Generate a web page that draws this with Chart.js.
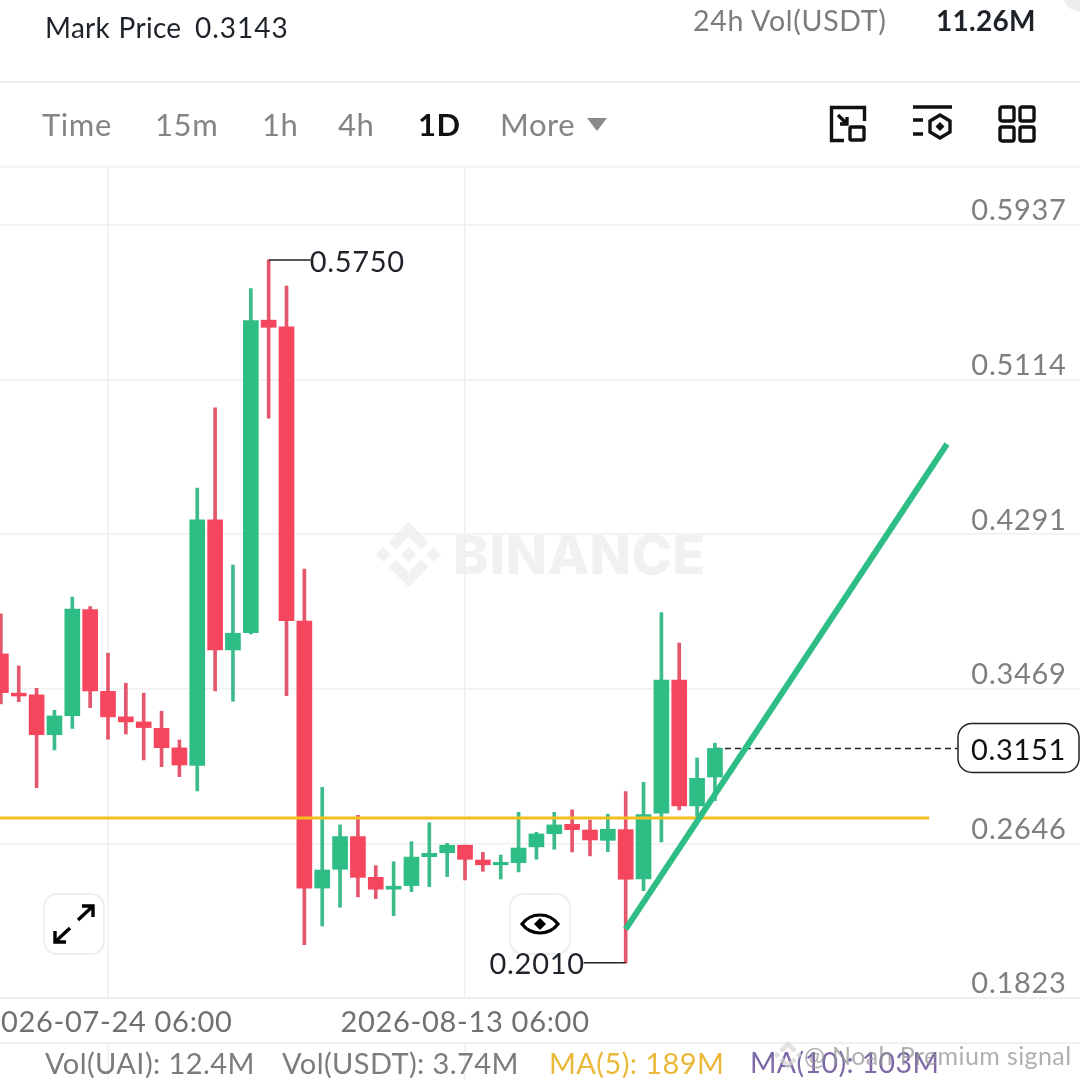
<!DOCTYPE html>
<html>
<head>
<meta charset="utf-8">
<script src="https://cdn.jsdelivr.net/npm/chart.js@4"></script>
<style>
html, body { margin: 0; padding: 0; background: #fff; }
#page { position: relative; width: 1080px; height: 1080px; overflow: hidden; font-family: Lato, sans-serif; }
#page > div, #page > svg { position: absolute; }
#chartBox { left: 0; top: 0; width: 1080px; height: 1080px; }
.t { white-space: nowrap; line-height: 1; }
.grey { color: #7c7c7c; }
.dark { color: #1e2329; }
.tab { top: 109px; font-size: 31px; color: #848484; letter-spacing: .6px; }
.leg { top: 1048px; font-size: 29px; letter-spacing: .4px; }
.line { background: #eeeeee; left: 0; width: 1080px; }
.btn { width: 58px; height: 58px; border: 2.5px solid #efefef; border-radius: 14px; background: #fff; }
</style>
</head>
<body>
<div id="page">
  <div class="line" style="top:81px;height:2px"></div>
  <div class="line" style="top:165px;height:3px;background:#f5f5f5"></div>
  <div class="line" style="top:997px;height:2px;background:#ececec"></div>
  <div class="line" style="top:1042px;height:2px;background:#f0f0f0"></div>

  <!-- watermark -->
  <svg style="left:376px;top:522px" width="65" height="65" viewBox="0 0 126.61 126.61"><path fill="#f1f1f1" d="M38.73 53.2l24.59-24.58 24.6 24.6 14.3-14.31L63.32 0 24.42 38.9zM0 63.31l14.3-14.31 14.31 14.31-14.31 14.3zM38.73 73.41l24.59 24.59 24.6-24.6 14.31 14.29-38.9 38.91-38.91-38.88-.02-.02zM98 63.31l14.3-14.31 14.31 14.3-14.31 14.32zM77.83 63.3L63.32 48.78 52.59 59.51l-1.24 1.23-2.54 2.54 14.51 14.5 14.51-14.47z"/></svg>
  <div class="t" style="left:453px;top:528px;font-family:Inter,sans-serif;font-weight:800;font-size:54px;letter-spacing:.6px;color:#f1f1f1">BINANCE</div>

  <!-- round buttons under the chart -->
  <div class="btn" style="left:43px;top:893px">
    <svg width="58" height="58" viewBox="0 0 58 58" fill="none" stroke="#000" stroke-width="3.4"><path d="M33 25L48 11M37 11h11v11M25 33L10 47M10 36v11h11"/></svg>
  </div>
  <div class="btn" style="left:509px;top:893px">
    <svg width="58" height="58" viewBox="0 0 58 58" fill="none" stroke="#000" stroke-width="3.2"><path d="M11 29C20 17 38 17 47 29C38 41 20 41 11 29Z"/><path fill="#000" stroke="none" d="M29 23l6 6-6 6-6-6z"/></svg>
  </div>

  <div id="chartBox"><canvas id="chart" width="1080" height="1080"></canvas></div>

  <!-- header -->
  <div class="t dark" style="left:45px;top:13px;font-size:28px;letter-spacing:.3px;word-spacing:1px">Mark Price</div>
  <div class="t dark" style="left:195px;top:13px;font-size:28px;letter-spacing:1px">0.3143</div>
  <div class="t grey" style="left:693px;top:6px;font-size:28.5px;letter-spacing:.7px">24h Vol(USDT)</div>
  <div class="t dark" style="left:936px;top:6px;font-weight:700;font-size:28px;letter-spacing:.3px">11.26M</div>
  <div style="left:1064px;top:-14px;width:40px;height:26px;border-radius:50%;background:#eeeeee"></div>

  <!-- tabs -->
  <div class="t tab" style="left:42px">Time</div>
  <div class="t tab" style="left:155px">15m</div>
  <div class="t tab" style="left:262px">1h</div>
  <div class="t tab" style="left:338px">4h</div>
  <div class="t tab" style="left:418px;color:#111;font-weight:700">1D</div>
  <div class="t tab" style="left:500px">More</div>
  <svg style="left:586px;top:117px" width="22" height="14"><path fill="#8a8a8a" d="M1 1h20l-10 13z"/></svg>

  <svg style="left:829px;top:105px" width="38" height="38" viewBox="0 0 38 38" fill="none" stroke="#111" stroke-width="3.4"><path d="M15 35.5H2.5V2.5H35.5V16"/><rect x="21" y="22" width="14" height="13" rx="1.5"/><path d="M9 10l9 9M18 12v7h-7"/></svg>
  <svg style="left:911px;top:104px" width="42" height="38" viewBox="0 0 42 38" fill="none" stroke="#111" stroke-width="3.4"><path d="M2 3H41M2 16H12M2 30H12"/><path d="M29 11l10 6v11l-10 6-10-6V17z"/><path fill="#111" stroke="none" d="M29 18l4.5 4.5L29 27l-4.5-4.5z"/></svg>
  <svg style="left:998px;top:105px" width="38" height="38" viewBox="0 0 38 38" fill="none" stroke="#111" stroke-width="3.4"><rect x="2" y="2" width="14" height="14" rx="2"/><rect x="22" y="2" width="14" height="14" rx="2"/><rect x="2" y="22" width="14" height="14" rx="2"/><rect x="22" y="22" width="14" height="14" rx="2"/></svg>

  <!-- volume legend -->
  <div class="t leg" style="left:45px;color:#7c7c7c">Vol(UAI): 12.4M</div>
  <div class="t leg" style="left:282px;color:#7c7c7c">Vol(USDT): 3.74M</div>
  <div class="t leg" style="left:549px;color:#ebb93a">MA(5): 189M</div>
  <div class="t leg" style="left:750px;font-size:28.5px;color:#7d69a8">MA(10): 103M</div>
  <svg style="left:774px;top:1040px;opacity:.7" width="28" height="30" viewBox="0 0 126.61 126.61"><path fill="#d5d5d5" d="M38.73 53.2l24.59-24.58 24.6 24.6 14.3-14.31L63.32 0 24.42 38.9zM0 63.31l14.3-14.31 14.31 14.31-14.31 14.3zM38.73 73.41l24.59 24.59 24.6-24.6 14.31 14.29-38.9 38.91-38.91-38.88-.02-.02zM98 63.31l14.3-14.31 14.31 14.3-14.31 14.32z"/></svg>
  <div class="t" style="left:804px;top:1043px;font-size:25px;letter-spacing:.4px;color:rgba(150,150,150,.75)">@ Noah Premium signal</div>
</div>

<script>
// Candles
var opens  = [0.3654,0.3445,0.3436,0.3224,0.3325,0.3890,0.3455,0.3319,0.3292,0.3258,0.3154,0.3061,0.4367,0.3675,0.3767,0.5430,0.5394,0.3829,0.2408,0.2508,0.2682,0.2465,0.2402,0.2421,0.2575,0.2596,0.2636,0.2557,0.2532,0.2543,0.2627,0.2697,0.2747,0.2717,0.2662,0.2719,0.2456,0.2806,0.3515,0.2845,0.2999];
var closes = [0.3448,0.3430,0.3224,0.3324,0.3892,0.3457,0.3319,0.3292,0.3262,0.3155,0.3063,0.4367,0.3675,0.3764,0.5428,0.5392,0.3831,0.2408,0.2504,0.2682,0.2465,0.2402,0.2418,0.2573,0.2593,0.2636,0.2561,0.2532,0.2545,0.2621,0.2696,0.2744,0.2719,0.2664,0.2721,0.2455,0.2799,0.3515,0.2845,0.2992,0.3151];
var highs  = [0.3867,0.3590,0.3471,0.3354,0.3956,0.3906,0.3658,0.3498,0.3445,0.3349,0.3196,0.4536,0.4963,0.4127,0.5598,0.5750,0.5611,0.4106,0.2944,0.2744,0.2795,0.2527,0.2548,0.2655,0.2756,0.2646,0.2637,0.2598,0.2584,0.2811,0.2705,0.2811,0.2824,0.2770,0.2801,0.2921,0.2971,0.3874,0.3711,0.3100,0.3179];
var lows   = [0.3388,0.3400,0.2942,0.3143,0.3258,0.3368,0.3200,0.3228,0.3090,0.3054,0.3001,0.2925,0.3457,0.3402,0.3760,0.4908,0.3432,0.2107,0.2206,0.2306,0.2361,0.2352,0.2261,0.2389,0.2415,0.2469,0.2451,0.2497,0.2456,0.2494,0.2561,0.2614,0.2600,0.2579,0.2602,0.2010,0.2394,0.2653,0.2824,0.2781,0.2873];

// Axis ticks
var priceTicks = [0.1823, 0.2646, 0.3469, 0.4291, 0.5114, 0.5937];
var timeTickIndex = [6, 26];
var timeTickLabels = ["2026-07-24 06:00", "2026-08-13 06:00"];

// Drawn lines: candle index and price
var supportX = [-1, 52];
var supportY = [0.2781, 0.2781];
var trendX = [35, 53];
var trendY = [0.2190, 0.4771];
var lastPriceX = [40, 53.6];

var GREEN = "#2EBD85", RED = "#F6465D";
var lastPrice = closes[closes.length - 1];

function points(xs, ys) {
    return xs.map(function(x, i) { return { x: x, y: ys[i] }; });
}
function candleColor(i) {
    return closes[i] >= opens[i] ? GREEN : RED;
}

var wicks = highs.map(function(h, i) { return { x: i, y: [lows[i], h] }; });
var bodies = opens.map(function(o, i) { return { x: i, y: [o, closes[i]] }; });

// High, low and last price tags, grid ends under the axis
var tagsPlugin = {
    id: "tags",
    beforeDraw: function(chart) {
        chart.ctx.letterSpacing = "0.7px";
    },
    afterDraw: function(chart) {
        var ctx = chart.ctx, x = chart.scales.x, y = chart.scales.y;
        ctx.save();

        ctx.strokeStyle = "#f0f0f0";
        ctx.lineWidth = 1.5;
        timeTickIndex.forEach(function(t) {
            ctx.beginPath();
            ctx.moveTo(x.getPixelForValue(t), 1043);
            ctx.lineTo(x.getPixelForValue(t), 1080);
            ctx.stroke();
        });

        var hi = highs.indexOf(Math.max.apply(null, highs));
        var lo = lows.indexOf(Math.min.apply(null, lows));
        ctx.font = "29px Lato";
        ctx.fillStyle = "#1e2329";
        ctx.strokeStyle = "#1e2329";
        ctx.textBaseline = "middle";

        var hx = x.getPixelForValue(hi), hy = y.getPixelForValue(highs[hi]);
        ctx.beginPath(); ctx.moveTo(hx, hy); ctx.lineTo(hx + 42, hy); ctx.stroke();
        ctx.textAlign = "left";
        ctx.fillText(highs[hi].toFixed(4), hx + 41, hy + 3);

        var lx = x.getPixelForValue(lo), ly = y.getPixelForValue(lows[lo]);
        ctx.beginPath(); ctx.moveTo(lx, ly); ctx.lineTo(lx - 42, ly); ctx.stroke();
        ctx.textAlign = "right";
        ctx.fillText(lows[lo].toFixed(4), lx - 41, ly + 2);

        var py = y.getPixelForValue(lastPrice);
        ctx.beginPath();
        ctx.roundRect(958, py - 25, 121, 49, 14);
        ctx.fillStyle = "#fff";
        ctx.fill();
        ctx.lineWidth = 1.5;
        ctx.stroke();
        ctx.fillStyle = "#111";
        ctx.textAlign = "center";
        ctx.fillText(lastPrice.toFixed(4), 1018.5, py + 2);
        ctx.restore();
    }
};

new Chart(document.getElementById("chart").getContext("2d"), {
    type: "bar",
    plugins: [tagsPlugin],
    data: {
        datasets: [
            {
                label: "Last price",
                type: "line",
                data: points(lastPriceX, [lastPrice, lastPrice]),
                borderColor: "#222",
                borderWidth: 1.5,
                borderDash: [6, 4],
                pointRadius: 0,
                order: 5
            },
            {
                label: "Wick",
                data: wicks,
                barThickness: 3,
                backgroundColor: wicks.map(function(w, i) { return candleColor(i) == RED ? "#E4566B" : "#3DBB8A"; }),
                grouped: false,
                order: 4
            },
            {
                label: "Body",
                data: bodies,
                barThickness: 15,
                backgroundColor: bodies.map(function(b, i) { return candleColor(i); }),
                grouped: false,
                order: 3
            },
            {
                label: "Support",
                type: "line",
                data: points(supportX, supportY),
                borderColor: "#F3BE1F",
                borderWidth: 3,
                pointRadius: 0,
                order: 2
            },
            {
                label: "Trend",
                type: "line",
                data: points(trendX, trendY),
                borderColor: GREEN,
                borderWidth: 6,
                pointRadius: 0,
                order: 1
            }
        ]
    },
    options: {
        responsive: false,
        animation: false,
        devicePixelRatio: 1,
        layout: { padding: { top: 167, bottom: 34, left: 0, right: 0 } },
        plugins: { legend: { display: false }, tooltip: { enabled: false } },
        scales: {
            x: {
                type: "linear",
                offset: false,
                min: -0.05,
                max: 60.45,
                afterBuildTicks: function(scale) {
                    scale.ticks = timeTickIndex.map(function(v) { return { value: v }; });
                },
                afterFit: function(scale) {
                    scale.height = 48;
                    scale.paddingLeft = 0;
                    scale.paddingRight = 0;
                },
                grid: { offset: false, color: "#f0f0f0", lineWidth: 1.5, drawTicks: false },
                border: { display: false },
                ticks: {
                    autoSkip: false,
                    maxRotation: 0,
                    padding: 7,
                    color: "#707070",
                    font: { family: "Lato", size: 29 },
                    callback: function(v) { return timeTickLabels[timeTickIndex.indexOf(v)]; }
                }
            },
            y: {
                position: "right",
                min: 0.1823,
                max: 0.6245,
                afterBuildTicks: function(scale) {
                    scale.ticks = priceTicks.map(function(v) { return { value: v }; });
                },
                afterFit: function(scale) { scale.width = 0; },
                grid: { color: "#f0f0f0", lineWidth: 1.5, drawTicks: false },
                border: { display: false },
                ticks: {
                    mirror: true,
                    padding: -13.5,
                    labelOffset: -14,
                    color: "#7f7f7f",
                    font: { family: "Lato", size: 29 },
                    callback: function(v) { return v.toFixed(4); }
                }
            }
        }
    }
});
</script>
</body>
</html>
